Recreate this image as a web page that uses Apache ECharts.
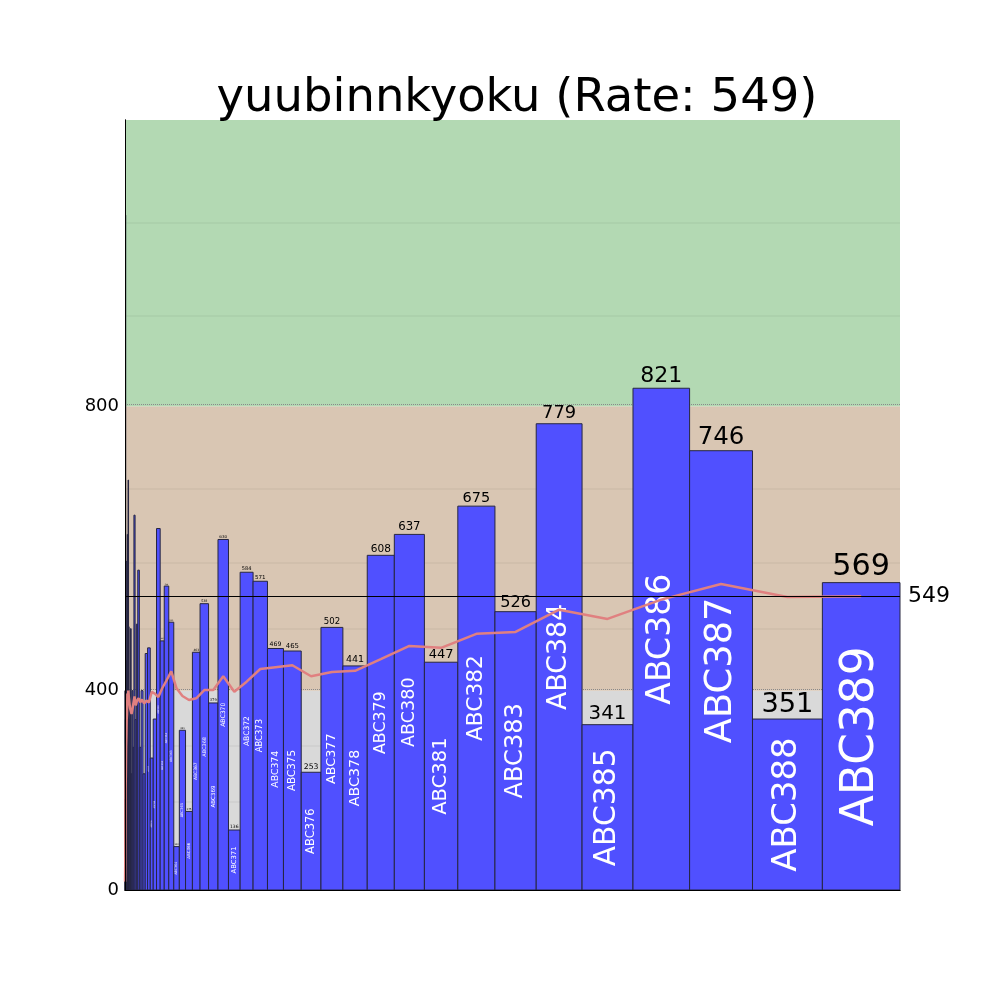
<!DOCTYPE html>
<html>
<head>
<meta charset="utf-8">
<script src="https://cdn.jsdelivr.net/npm/echarts@6/dist/echarts.min.js"></script>
<style>
  html, body { margin: 0; background: #fff; }
  #chart { width: 1000px; height: 1000px; }
</style>
</head>
<body>
<div id="chart"></div>
<script>
// oldest contest first
const contests = [
  'ABC330', 'ABC331', 'ABC332', 'ABC333', 'ABC334', 'ABC335', 'ABC336', 'ABC337', 'ABC338', 'ABC339',
  'ABC340', 'ABC341', 'ABC342', 'ABC343', 'ABC344', 'ABC345', 'ABC346', 'ABC347', 'ABC348', 'ABC349',
  'ABC350', 'ABC351', 'ABC352', 'ABC353', 'ABC354', 'ABC355', 'ABC356', 'ABC357', 'ABC358', 'ABC359',
  'ABC360', 'ABC361', 'ABC362', 'ABC363', 'ABC364', 'ABC365', 'ABC366', 'ABC367', 'ABC368', 'ABC369',
  'ABC370', 'ABC371', 'ABC372', 'ABC373', 'ABC374', 'ABC375', 'ABC376', 'ABC377', 'ABC378', 'ABC379',
  'ABC380', 'ABC381', 'ABC382', 'ABC383', 'ABC384', 'ABC385', 'ABC386', 'ABC387', 'ABC388', 'ABC389'
];
const performances = [
  400, 200, 350, 1006, 250, 600, 300, 450, 200, 637,
  300, 709, 503, 350, 380, 500, 250, 400, 300, 663,
  350, 507, 587, 300, 400, 250, 461, 470, 280, 351,
  645, 481, 564, 510, 100, 331, 175, 463, 538, 379,
  630, 136, 584, 571, 469, 465, 253, 502, 441, 608,
  637, 447, 675, 526, 779, 341, 821, 746, 351, 569
];
const ratings = [
  20, 60, 130, 220, 250, 300, 320, 350, 360, 395,
  380, 400, 390, 380, 370, 372, 360, 368, 370, 390,
  375, 383, 387, 380, 385, 378, 383, 380, 398, 395,
  389, 404, 417, 432, 404, 391, 384, 387, 401, 401,
  424, 398, 415, 436, 439, 442, 424, 431, 433, 452,
  473, 470, 492, 495, 529, 515, 544, 567, 548, 549
];
const currentRate = 549;
const yTicks = [0, 400, 800];
const gridValues = [100, 200, 300, 500, 600, 700, 900, 1000];
const bandEdges = [400, 800];
const bands = [
  { from: 0, to: 400, color: '#d9d9d9' },
  { from: 400, to: 800, color: '#d9c6b3' },
  { from: 800, to: 1096, color: '#b3d9b3' }
];

// the y scale stretches higher ratings: axis value = exp(v / K) - 1
const K = 1125;
const toAxis = (v) => Math.exp(v / K) - 1;
const fromAxis = (a) => K * Math.log(1 + a);
const yMax = toAxis(1096);

// each bar is 0.9 times as wide as the next one
const shrink = 0.9;
const n = contests.length;
const barData = [];
const lineData = [];
let cursor = 0;
for (let i = 0; i < n; i++) {
  const w = Math.pow(shrink, n - 1 - i);
  barData.push([cursor, cursor + w, toAxis(performances[i]), performances[i], contests[i]]);
  lineData.push([cursor + w / 2, toAxis(ratings[i])]);
  cursor += w;
}
const xMax = cursor;

const font = 'DejaVu Sans';

function renderBar(params, api) {
  const x0 = api.value(0);
  const x1 = api.value(1);
  const top = api.coord([x0, api.value(2)]);
  const bottom = api.coord([x1, 0]);
  const w = bottom[0] - top[0];
  const h = bottom[1] - top[1];
  const cx = top[0] + w / 2;
  const children = [{
    type: 'rect',
    shape: { x: top[0], y: top[1], width: w, height: h },
    style: { fill: '#5050ff', stroke: '#262640', lineWidth: 1 }
  }];
  const valueSize = w * 0.39;
  // the rotated name shrinks when the bar is too short for it
  const nameSize = Math.min(w * 0.585, h * 0.79 / 3.98);
  if (valueSize >= 1.5) {
    children.push({
      type: 'text',
      x: cx, y: top[1] - 1,
      style: {
        text: String(api.value(3)), fontSize: valueSize, fontFamily: font,
        fill: '#000', align: 'center', verticalAlign: 'bottom'
      }
    });
  }
  if (nameSize >= 1.5) {
    children.push({
      type: 'text',
      x: cx, y: top[1] + h / 2,
      rotation: Math.PI / 2,
      style: {
        text: api.value(4), fontSize: nameSize, fontFamily: font,
        fill: '#fff', align: 'center', verticalAlign: 'middle'
      }
    });
  }
  return { type: 'group', children };
}

const chart = echarts.init(document.getElementById('chart'));
chart.setOption({
  animation: false,
  backgroundColor: '#fff',
  title: {
    text: 'yuubinnkyoku (Rate: 549)',
    left: 512, top: 70, textAlign: 'center',
    textStyle: { fontFamily: font, fontSize: 46.5, fontWeight: 'normal', color: '#000' }
  },
  grid: { left: 125, right: 100, top: 120, bottom: 110 },
  xAxis: [
    { type: 'value', min: 0, max: xMax, position: 'bottom', z: 10,
      axisLine: { show: true, lineStyle: { color: '#000', width: 1 } },
      axisTick: { show: false }, axisLabel: { show: false }, splitLine: { show: false } },
    { type: 'value', min: 0, max: xMax, position: 'top', z: 10,
      axisLine: { show: true, lineStyle: { color: '#000', width: 1 } },
      axisTick: { show: false }, axisLabel: { show: false }, splitLine: { show: false } }
  ],
  yAxis: [
    { type: 'value', min: 0, max: yMax, position: 'left', z: 10,
      axisLine: { show: true, lineStyle: { color: '#000', width: 1 } },
      axisTick: { show: false },
      axisLabel: {
        customValues: yTicks.map(toAxis),
        formatter: (v) => String(Math.round(fromAxis(v))),
        fontFamily: font, fontSize: 18, color: '#000', margin: 6
      },
      splitLine: { show: false } },
    { type: 'value', min: 0, max: yMax, position: 'right', z: 10,
      axisLine: { show: true, lineStyle: { color: '#000', width: 1 } },
      axisTick: { show: false }, axisLabel: { show: false }, splitLine: { show: false } }
  ],
  series: [
    {
      type: 'line', data: [], z: 0, silent: true,
      markArea: {
        silent: true, z: 0,
        data: bands.map((b) => [
          { yAxis: toAxis(b.from), itemStyle: { color: b.color } },
          { yAxis: toAxis(b.to) }
        ])
      }
    },
    {
      type: 'line', data: [], z: 1, silent: true,
      markLine: {
        silent: true, z: 1, symbol: 'none', label: { show: false },
        data: gridValues.map((v) => ({
          yAxis: toAxis(v), lineStyle: { color: 'rgba(0,0,0,0.035)', width: 2, type: 'solid' }
        })).concat(bandEdges.map((v) => ({
          yAxis: toAxis(v), lineStyle: { color: '#8a8a8a', width: 1, type: 'dotted' }
        })))
      }
    },
    {
      type: 'custom', z: 2, renderItem: renderBar, data: barData,
      encode: { x: [0, 1], y: 2 }
    },
    {
      type: 'line', z: 3, data: lineData, showSymbol: false, symbol: 'none',
      lineStyle: { color: '#e08080', width: 2.5 }
    },
    {
      type: 'line', data: [], z: 4, silent: true,
      markLine: {
        silent: true, z: 5, symbol: 'none',
        lineStyle: { color: '#000', width: 1, type: 'solid' },
        label: {
          show: true, position: 'end', distance: 8, formatter: String(currentRate),
          fontFamily: font, fontSize: 22, color: '#000'
        },
        data: [{ yAxis: toAxis(currentRate) }]
      }
    }
  ]
});
</script>
</body>
</html>
